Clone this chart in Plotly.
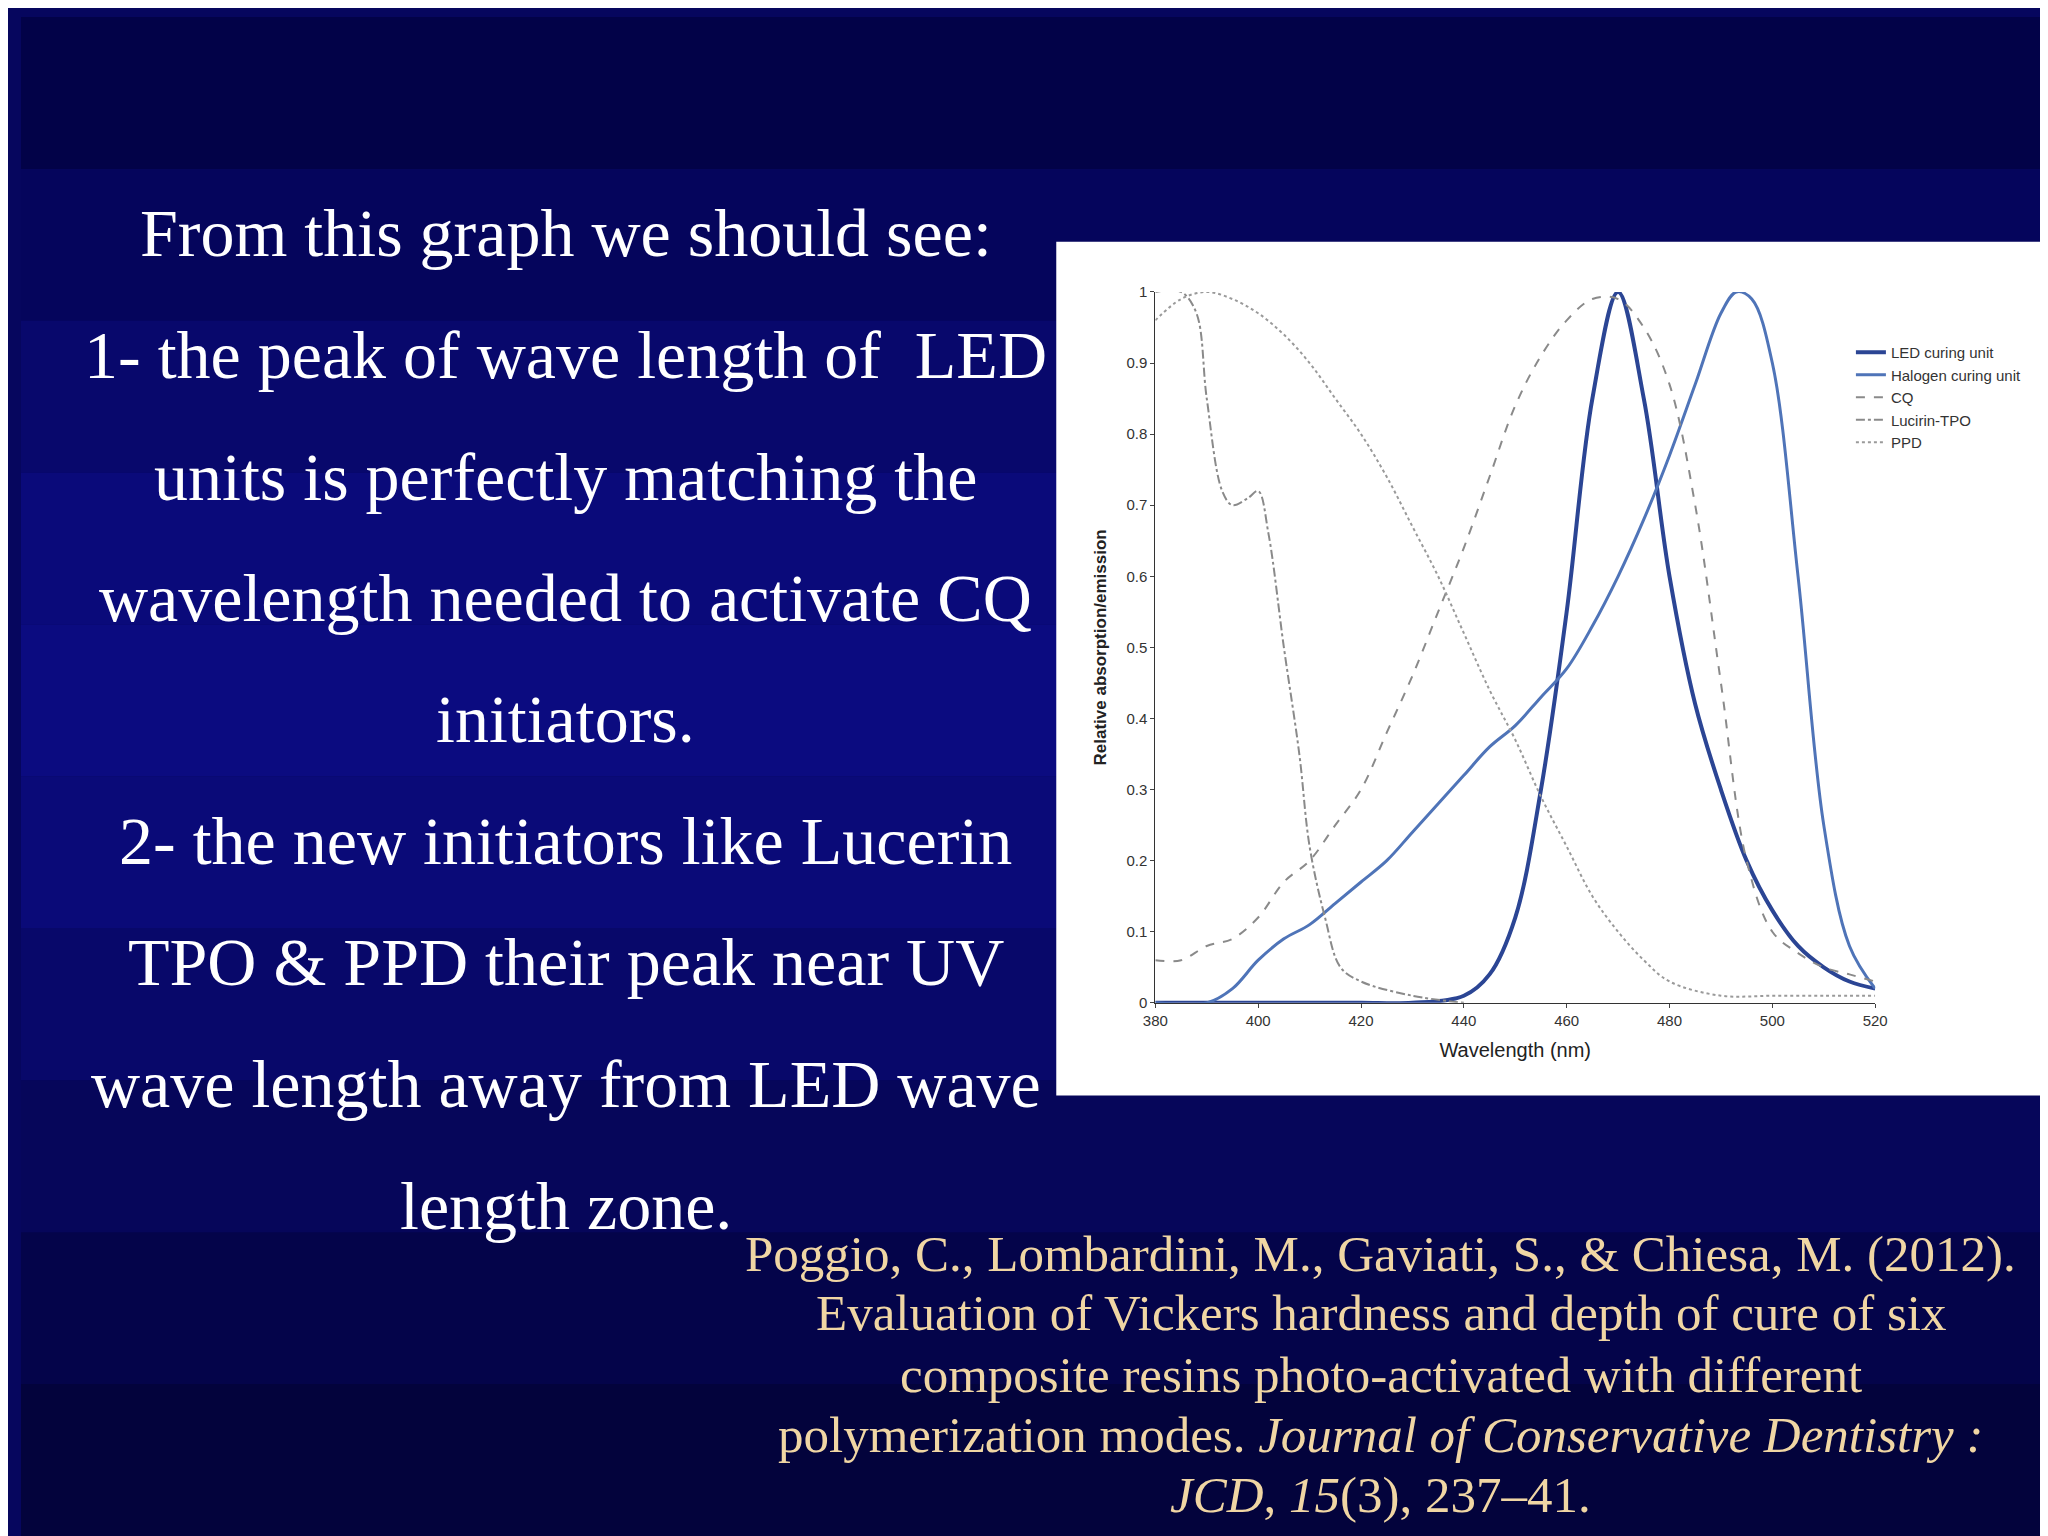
import plotly.graph_objects as go

# Spectra (wavelength in nm, relative value)
led_x = [380, 390, 400, 410, 420, 430, 440, 445, 450, 455, 460, 465, 470, 475, 480, 485, 490, 495, 500, 505, 510, 515, 520]
led_y = [0, 0, 0, 0, 0, 0, 0.01, 0.04, 0.12, 0.3, 0.55, 0.85, 1.0, 0.85, 0.6, 0.42, 0.3, 0.2, 0.13, 0.08, 0.05, 0.03, 0.02]

hal_x = [380, 390, 395, 400, 405, 410, 415, 420, 425, 430, 435, 440, 445, 450, 455, 460, 465, 470, 475, 480, 485, 490, 493, 496, 500, 505, 510, 515, 520]
hal_y = [0, 0, 0.02, 0.06, 0.09, 0.11, 0.14, 0.17, 0.2, 0.24, 0.28, 0.32, 0.36, 0.39, 0.43, 0.47, 0.53, 0.6, 0.68, 0.77, 0.87, 0.97, 1.0, 0.99, 0.9, 0.6, 0.25, 0.08, 0.02]

cq_x = [380, 385, 390, 395, 400, 405, 410, 415, 420, 425, 430, 435, 440, 445, 450, 455, 460, 465, 470, 475, 480, 485, 490, 495, 500, 505, 510, 515, 520]
cq_y = [0.06, 0.06, 0.08, 0.09, 0.12, 0.17, 0.2, 0.25, 0.3, 0.38, 0.46, 0.55, 0.64, 0.74, 0.84, 0.91, 0.96, 0.99, 0.99, 0.95, 0.87, 0.7, 0.45, 0.2, 0.1, 0.07, 0.05, 0.04, 0.03]

tpo_x = [380, 385, 388, 390, 393, 395, 398, 400, 402, 405, 408, 410, 413, 416, 420, 430, 440]
tpo_y = [1.0, 1.0, 0.97, 0.85, 0.72, 0.7, 0.71, 0.72, 0.66, 0.5, 0.35, 0.22, 0.12, 0.05, 0.03, 0.01, 0.0]

ppd_x = [380, 385, 390, 395, 400, 405, 410, 415, 420, 425, 430, 435, 440, 445, 450, 455, 460, 465, 470, 475, 480, 490, 500, 510, 520]
ppd_y = [0.96, 0.99, 1.0, 0.99, 0.97, 0.94, 0.9, 0.85, 0.8, 0.74, 0.67, 0.6, 0.52, 0.44, 0.37, 0.29, 0.22, 0.15, 0.1, 0.06, 0.03, 0.01, 0.01, 0.01, 0.01]

x_ticks = [380, 400, 420, 440, 460, 480, 500, 520]
y_ticks = [0, 0.1, 0.2, 0.3, 0.4, 0.5, 0.6, 0.7, 0.8, 0.9, 1]
y_labels = ['0', '0.1', '0.2', '0.3', '0.4', '0.5', '0.6', '0.7', '0.8', '0.9', '1']

bullets = ['From this graph we should see:',
           '1- the peak of wave length of  LED',
           'units is perfectly matching the',
           'wavelength needed to activate CQ',
           'initiators.',
           '2- the new initiators like Lucerin',
           'TPO &amp; PPD their peak near UV',
           'wave length away from LED wave',
           'length zone.']
citation = ['Poggio, C., Lombardini, M., Gaviati, S., &amp; Chiesa, M. (2012).',
            'Evaluation of Vickers hardness and depth of cure of six',
            'composite resins photo-activated with different',
            'polymerization modes. <i>Journal of Conservative Dentistry :</i>',
            '<i>JCD</i>, <i>15</i>(3), 237–41.']

fig = go.Figure()
fig.add_trace(go.Scatter(x=led_x, y=led_y, mode='lines', name='LED curing unit',
                         line=dict(color='#2b4594', width=4, shape='spline')))
fig.add_trace(go.Scatter(x=hal_x, y=hal_y, mode='lines', name='Halogen curing unit',
                         line=dict(color='#4f74b8', width=3, shape='spline')))
fig.add_trace(go.Scatter(x=cq_x, y=cq_y, mode='lines', name='CQ',
                         line=dict(color='#8a8a8a', width=2, dash='dash', shape='spline')))
fig.add_trace(go.Scatter(x=tpo_x, y=tpo_y, mode='lines', name='Lucirin-TPO',
                         line=dict(color='#8a8a8a', width=2, dash='dashdot', shape='spline')))
fig.add_trace(go.Scatter(x=ppd_x, y=ppd_y, mode='lines', name='PPD',
                         line=dict(color='#9a9a9a', width=2, dash='dot', shape='spline')))

# slide background: soft navy gradient made of thin bands
shapes = []
bands = [(1.0, 0.9, '#020248'), (0.9, 0.8, '#05055c'), (0.8, 0.7, '#08086c'),
         (0.7, 0.6, '#0a0a7a'), (0.6, 0.5, '#0b0b80'), (0.5, 0.4, '#0a0a78'),
         (0.4, 0.3, '#08086a'), (0.3, 0.2, '#06065a'), (0.2, 0.1, '#04044a'),
         (0.1, 0.0, '#03033c')]
for top, bottom, col in bands:
    shapes.append(dict(type='rect', xref='paper', yref='paper', x0=0, x1=1, y0=bottom, y1=top,
                       fillcolor=col, line_width=0, layer='below'))
shapes.append(dict(type='rect', xref='paper', yref='paper', x0=0.512, x1=1.0, y0=0.290, y1=0.852,
                   fillcolor='white', line_width=0, layer='below'))

annotations = []
line_y = [218, 342, 465, 588, 710, 833, 956, 1079, 1202]
for txt, py in zip(bullets, line_y):
    annotations.append(dict(text=txt, xref='paper', yref='paper', x=552 / 2048, y=1 - py / 1536,
                            showarrow=False, xanchor='center', yanchor='middle',
                            font=dict(family='Liberation Serif', size=68, color='white')))
cite_y = [1251, 1311, 1373, 1434, 1495]
for txt, py in zip(citation, cite_y):
    annotations.append(dict(text=txt, xref='paper', yref='paper', x=1377 / 2048, y=1 - py / 1536,
                            showarrow=False, xanchor='center', yanchor='middle',
                            font=dict(family='Liberation Serif', size=51, color='#f0d6a4')))

fig.update_layout(
    width=2048, height=1536,
    margin=dict(l=0, r=0, t=0, b=0),
    paper_bgcolor='#06065e', plot_bgcolor='white',
    shapes=shapes, annotations=annotations,
    xaxis=dict(domain=[0.561, 0.917], range=[380, 520], tickvals=x_ticks,
               showgrid=False, zeroline=False, showline=True, linecolor='#333', ticks='outside',
               ticklen=4, tickfont=dict(family='Liberation Sans', size=15, color='#333'),
               title=dict(text='Wavelength (nm)', font=dict(family='Liberation Sans', size=20, color='#222'))),
    yaxis=dict(domain=[0.351, 0.819], range=[0, 1.0], tickvals=y_ticks, ticktext=y_labels,
               showgrid=False, zeroline=False, showline=True, linecolor='#333', ticks='outside',
               ticklen=4, tickfont=dict(family='Liberation Sans', size=15, color='#333'),
               title=dict(text='<b>Relative absorption/emission</b>',
                          font=dict(family='Liberation Sans', size=17, color='#222'))),
    legend=dict(x=0.905, y=0.79, xanchor='left', yanchor='top', bgcolor='rgba(0,0,0,0)',
                font=dict(family='Liberation Sans', size=15, color='#333'), tracegroupgap=2),
    showlegend=True,
)

fig.write_html("out.html")
